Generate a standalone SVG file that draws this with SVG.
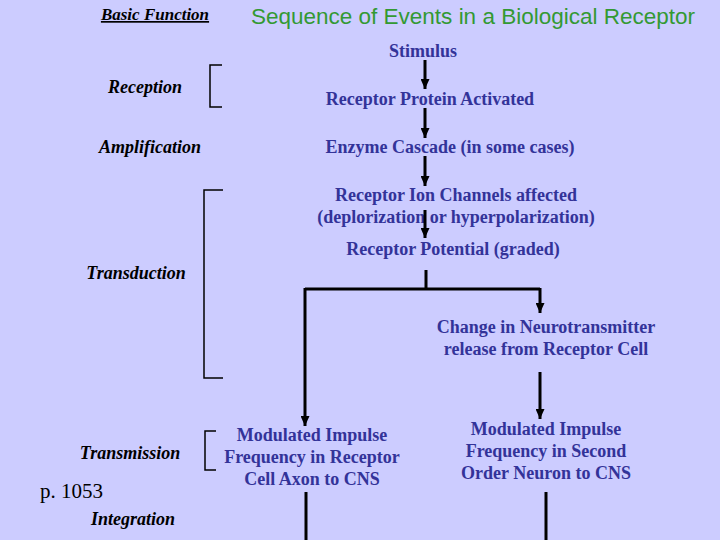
<svg xmlns="http://www.w3.org/2000/svg" width="720" height="540" viewBox="0 0 720 540">
<style>
.t{font-family:"Liberation Serif",serif;font-weight:bold;font-size:18px;fill:#333399;text-anchor:middle}
.l{font-family:"Liberation Serif",serif;font-weight:bold;font-style:italic;font-size:18px;fill:#000;text-anchor:middle}
.c{stroke:#000;stroke-width:3;fill:none}
.b{stroke:#000;stroke-width:1.5;fill:none}
</style>
<defs>
<marker id="h" markerWidth="9" markerHeight="10" refX="4.5" refY="10" orient="0" markerUnits="userSpaceOnUse" viewBox="0 0 9 10"><path d="M0,0 L9,0 L4.5,10Z" fill="#000"/></marker></defs>
<rect width="720" height="540" fill="#ccccff"/>
<g id="headers">
<text x="155" y="20" class="l" style="text-decoration:underline;font-size:17px">Basic Function</text>
<text x="473" y="24" font-family="Liberation Sans,sans-serif" font-size="22.5" fill="#339933" text-anchor="middle">Sequence of Events in a Biological Receptor</text>
</g>
<g id="labels">
<text x="145" y="93" class="l">Reception</text>
<text x="150" y="153" class="l">Amplification</text>
<text x="136" y="279" class="l">Transduction</text>
<text x="130" y="459" class="l">Transmission</text>
<text x="40" y="498" font-family="Liberation Serif,serif" font-size="21" fill="#000">p. 1053</text>
<text x="133" y="525" class="l">Integration</text>
</g>
<g id="brackets">
<path class="b" d="M222,65 H210 V107 H222"/>
<path class="b" d="M223,190 H204 V378 H223"/>
<path class="b" d="M216,431 H205 V470 H216"/>
</g>
<g id="n1"><text x="423" y="57" class="t">Stimulus</text></g>
<g id="n2"><text x="430" y="105" class="t">Receptor Protein Activated</text></g>
<g id="n3"><text x="450" y="153" class="t">Enzyme Cascade (in some cases)</text></g>
<g id="n4"><text x="456" y="201" class="t">Receptor Ion Channels affected</text><text x="456" y="223" class="t">(deplorization or hyperpolarization)</text></g>
<g id="n5"><text x="453" y="255" class="t">Receptor Potential (graded)</text></g>
<g id="n6"><text x="546" y="333" class="t">Change in Neurotransmitter</text><text x="546" y="355" class="t">release from Receptor Cell</text></g>
<g id="n7"><text x="312" y="441" class="t">Modulated Impulse</text><text x="312" y="463" class="t">Frequency in Receptor</text><text x="312" y="485" class="t">Cell Axon to CNS</text></g>
<g id="n8"><text x="546" y="435" class="t">Modulated Impulse</text><text x="546" y="457" class="t">Frequency in Second</text><text x="546" y="479" class="t">Order Neuron to CNS</text></g>
<g id="connectors">
<path class="c" d="M425,60 V89" marker-end="url(#h)"/>
<path class="c" d="M425,108 V138" marker-end="url(#h)"/>
<path class="c" d="M425,156 V186" marker-end="url(#h)"/>
<path class="c" d="M425,210 V238" marker-end="url(#h)"/>
<path class="c" d="M426,270 V289 M305,289 H540"/>
<path class="c" d="M305,288 V426" marker-end="url(#h)"/>
<path class="c" d="M540,288 V313" marker-end="url(#h)"/>
<path class="c" d="M540,372 V419" marker-end="url(#h)"/>
<path class="c" d="M306,492 V545"/>
<path class="c" d="M546,492 V545"/>
</g>
</svg>
